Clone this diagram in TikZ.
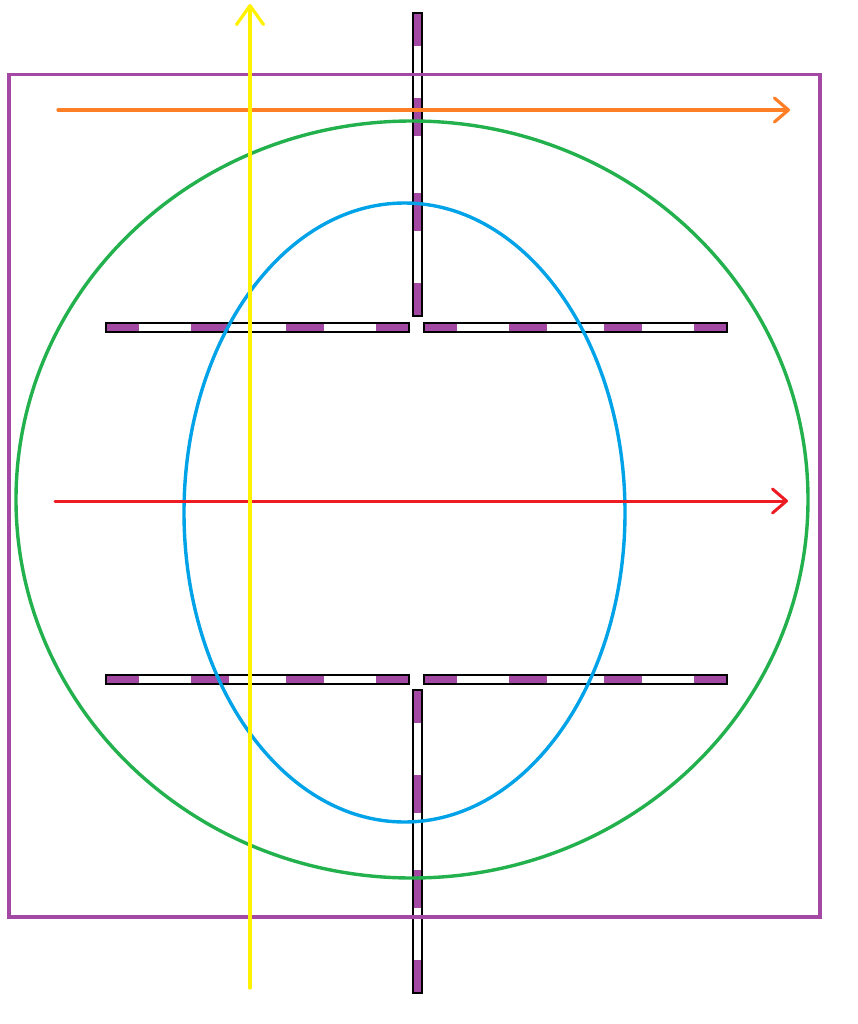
\documentclass[tikz,border=0pt]{standalone}
\usetikzlibrary{arrows.meta}
\definecolor{ppurple}{HTML}{A349A4}
\definecolor{pgreen}{HTML}{22B14C}
\definecolor{pblue}{HTML}{00A2E8}
\definecolor{pyellow}{HTML}{FFF200}
\definecolor{porange}{HTML}{FF7F27}
\definecolor{pred}{HTML}{ED1C24}
\newcommand\HStripe[2]{%
  \fill[white] (#1,#2-4.5) rectangle (#1+303,#2+4.5);
  \foreach \a/\b in {0/33,85/123,180/218,270/303}
    \fill[ppurple] (#1+\a,#2-4.5) rectangle (#1+\b,#2+4.5);
  \draw[barborder] (#1,#2-4.5) rectangle (#1+303,#2+4.5);
}
\newcommand\VStripe[2]{%
  \fill[white] (#1-4.5,#2) rectangle (#1+4.5,#2+303);
  \foreach \a/\b in {0/33,85/123,180/218,270/303}
    \fill[ppurple] (#1-4.5,#2+\a) rectangle (#1+4.5,#2+\b);
  \draw[barborder] (#1-4.5,#2) rectangle (#1+4.5,#2+303);
}
\tikzset{
  barborder/.style={draw=black, line width=2pt},
  shape line/.style={line width=3.4pt},
  arrow line/.style={line width=3.2pt, line cap=round,
    -{Straight Barb[length=14pt,width=24pt,line cap=round,line join=round]}},
}
\begin{document}
\begin{tikzpicture}[x=1pt,y=-1pt]
\useasboundingbox (0,0) rectangle (858,1024);
\fill[white] (0,0) rectangle (858,1024);
% striped bars
\VStripe{417}{13}
\HStripe{106}{327.5}
\HStripe{424}{327.5}
\HStripe{106}{679}
\HStripe{424}{679}
\VStripe{417}{690}
% frame
\draw[ppurple, shape line] (9,74.5) rectangle (820,917);
% ellipses
\draw[pgreen, shape line] (412,499.5) ellipse [x radius=396, y radius=378.5];
\draw[pblue, shape line] (404.5,512.5) ellipse [x radius=220.5, y radius=309.5];
% arrow end points
\coordinate (ys) at (250,988);
\coordinate (ye) at (250,4);
\coordinate (os) at (58,110);
\coordinate (oe) at (790,110);
\coordinate (rs) at (55,501);
\coordinate (re) at (788,501);
\draw[porange, arrow line] (os) -- (oe);
\draw[pred, arrow line, line width=3pt] (rs) -- (re);
\draw[pyellow, arrow line, -{Straight Barb[length=19pt,width=27pt,line cap=round,line join=round]}] (ys) -- (ye);
\end{tikzpicture}
\end{document}
